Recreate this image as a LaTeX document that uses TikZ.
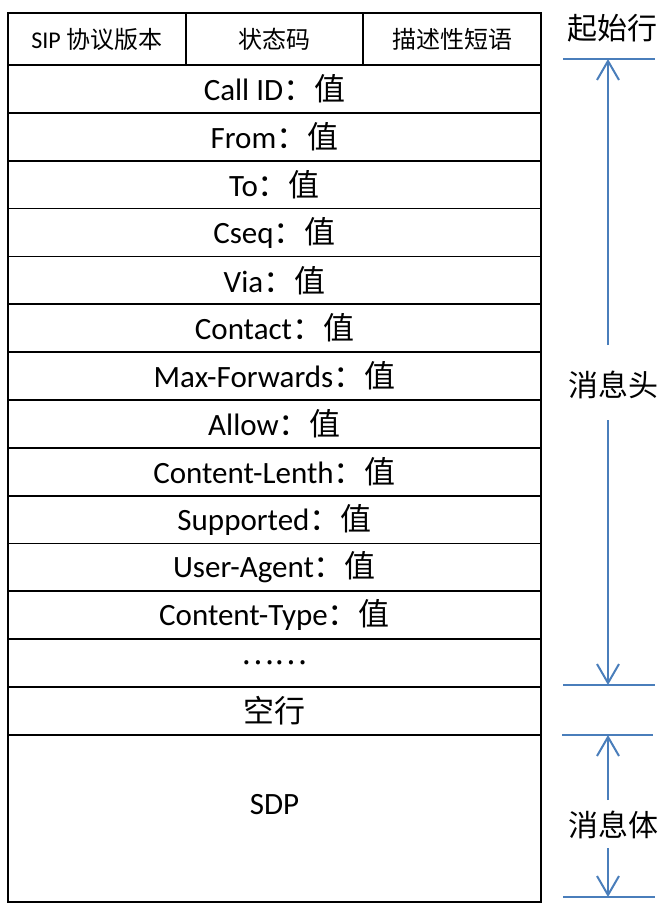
\documentclass[tikz,border=0pt]{standalone}
\usepackage{fontspec}
\setmainfont{Carlito}
\newfontfamily\cjk{Noto Sans CJK SC}
\newcommand{\zh}[1]{{\cjk #1}}
\usetikzlibrary{arrows.meta}
\definecolor{lineblue}{HTML}{4A7EBB}
\begin{document}
\begin{tikzpicture}[x=1pt,y=-1pt,
  cell/.style={draw=black,line width=1.8pt,minimum width=533pt,minimum height=47.85pt,inner sep=0pt,font=\fontsize{31}{36}\selectfont},
  hcell/.style={draw=black,line width=1.8pt,minimum width=177.67pt,minimum height=52pt,inner sep=0pt,font=\fontsize{24}{28}\selectfont},
  txt/.style={inner sep=0pt,font=\fontsize{31}{36}\selectfont},
  side/.style={inner sep=0pt,font=\fontsize{30}{36}\selectfont\cjk},
  tick/.style={draw=lineblue,line width=2pt},
  dim/.style={draw=lineblue,line width=2pt,-{Straight Barb[length=19pt,width=22pt,line width=2pt]}}]
\useasboundingbox (0,0) rectangle (661,905);
% start line
\node[hcell] (h1) at (96.83,39) {SIP \zh{协议版本}};
\node[hcell] (h2) at (274.5,39) {\zh{状态码}};
\node[hcell] (h3) at (452.17,39) {\zh{描述性短语}};
% header rows
\foreach \t [count=\i from 0] in {Call ID\zh{：值},From\zh{：值},To\zh{：值},Cseq\zh{：值},Via\zh{：值},Contact\zh{：值},Max-Forwards\zh{：值},Allow\zh{：值},Content-Lenth\zh{：值},Supported\zh{：值},User-Agent\zh{：值},Content-Type\zh{：值},\zh{……}}
  \node[cell] (r\i) at (274.5,{65+47.85*(\i+0.5)}) {\t};
\node[cell] (blank) at (274.5,711) {\zh{空行}};
\node[cell,minimum height=167pt] (sdp) at (274.5,818.5) {};
\node[txt] (sdptext) at (274.5,805) {SDP};
% right side labels and dimension arrows
\node[side] (start) at (612,28) {起始行};
\node[side] (head) at (613,385) {消息头};
\node[side] (body) at (613,825) {消息体};
\coordinate (l1a) at (563,59);  \coordinate (l1b) at (655,59);
\coordinate (l2a) at (563,685); \coordinate (l2b) at (655,685);
\coordinate (l3a) at (562,735); \coordinate (l3b) at (653,735);
\coordinate (l4a) at (563,897); \coordinate (l4b) at (655,897);
\coordinate (p1) at (608,59);  \coordinate (q1) at (608,345);
\coordinate (q2) at (608,420); \coordinate (p2) at (608,685);
\coordinate (p3) at (608,735); \coordinate (q3) at (608,800);
\coordinate (q4) at (608,848); \coordinate (p4) at (608,897);
\draw[tick] (l1a) -- (l1b);
\draw[tick] (l2a) -- (l2b);
\draw[tick] (l3a) -- (l3b);
\draw[tick] (l4a) -- (l4b);
\draw[dim] (q1) -- (p1);
\draw[dim] (q2) -- (p2);
\draw[dim] (q3) -- (p3);
\draw[dim] (q4) -- (p4);
\end{tikzpicture}
\end{document}
